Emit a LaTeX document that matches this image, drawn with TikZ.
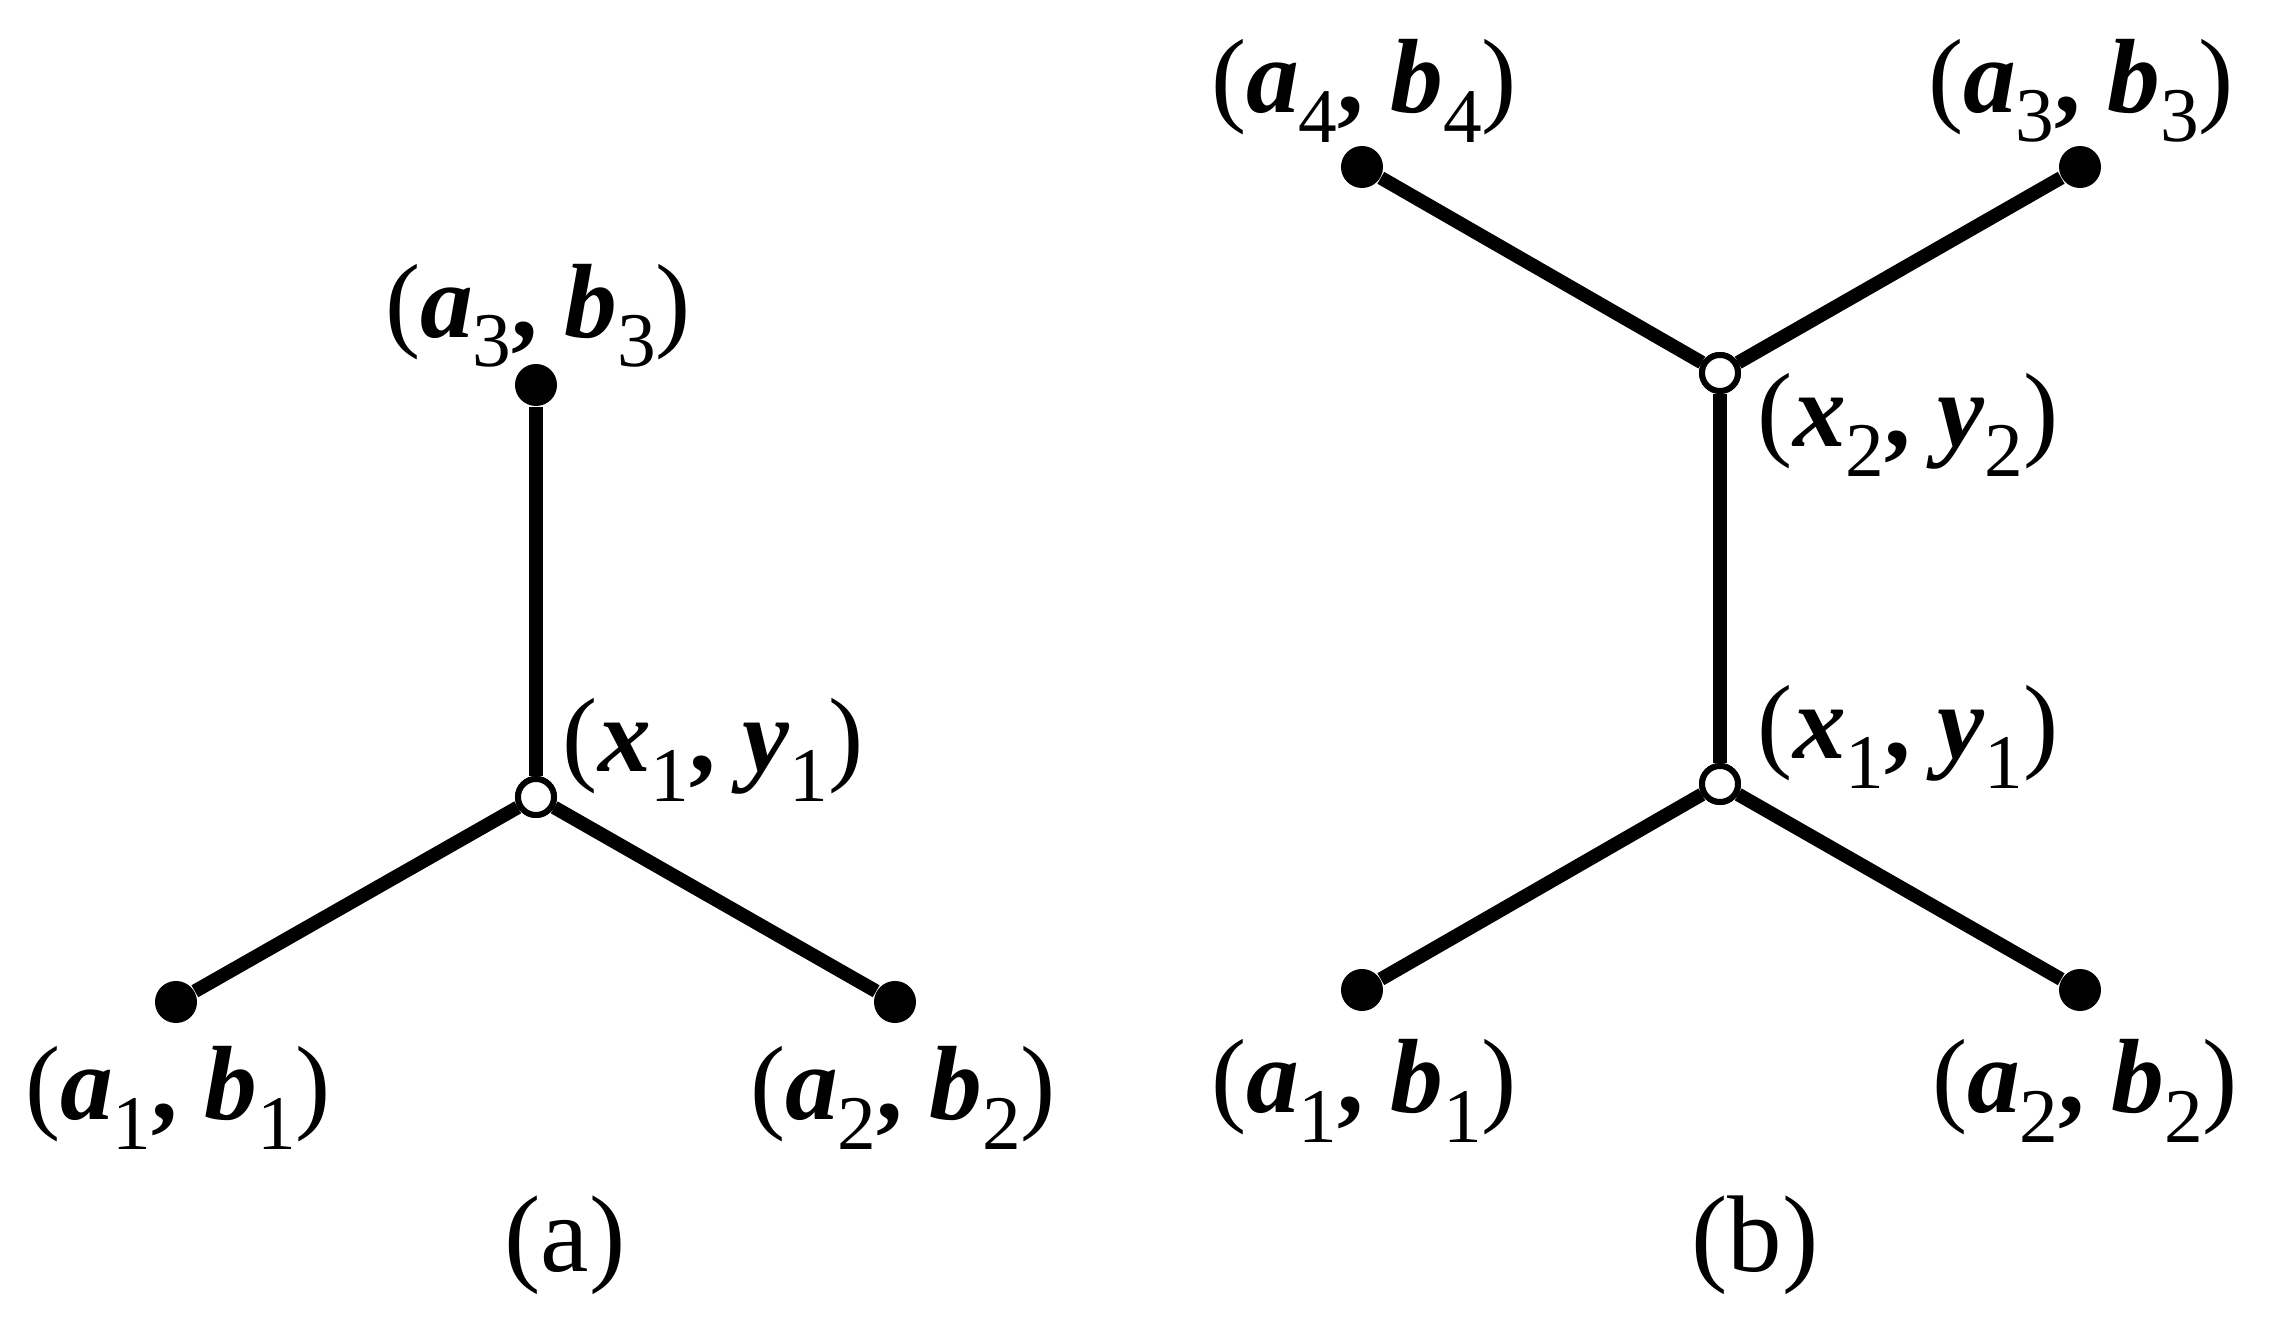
\documentclass[tikz,border=0pt]{standalone}
\usepackage{fontspec}
\setmainfont{Liberation Serif}
\newcommand\sbs[1]{\raisebox{-0.28em}{\fontsize{22}{22}\selectfont #1}}
\newcommand\cpair[4]{(\textbf{\textit{#1}}\sbs{#2}\textbf{,} \textbf{\textit{#3}}\sbs{#4})}
\tikzset{
  px/.style={x=0.01cm,y=-0.01cm},
  fdot/.style={circle,fill=black,inner sep=0pt,minimum size=0.42cm},
  odot/.style={circle,draw=black,fill=white,line width=1.7pt,inner sep=0pt,minimum size=0.36cm},
  conn/.style={line width=3.9pt},
  lab/.style={font=\fontsize{30}{34}\selectfont,inner sep=0pt},
  captext/.style={font=\fontsize{31}{34}\selectfont,inner sep=0pt}
}
\begin{document}
\begin{tikzpicture}[px]
\useasboundingbox (0,0) rectangle (2277,1331);
% panel (a)
\node[fdot] (A3) at (536,385) {};
\node[odot] (X1) at (536,797) {};
\node[fdot] (A1) at (176,1002) {};
\node[fdot] (A2) at (895,1002) {};
\draw[conn] (A3) -- (X1);
\draw[conn] (X1) -- (A1);
\draw[conn] (X1) -- (A2);
\node[odot] at (X1) {};
\node[lab] (LA3) at (538,316) {\cpair{a}{3}{b}{3}};
\node[lab] (LX1) at (713,750) {\cpair{x}{1}{y}{1}};
\node[lab] (LA1) at (178,1098) {\cpair{a}{1}{b}{1}};
\node[lab] (LA2) at (903,1098) {\cpair{a}{2}{b}{2}};
\node[captext] (CA) at (565,1245) {(a)};
% panel (b)
\node[fdot] (B4) at (1362,167) {};
\node[fdot] (B3) at (2080,167) {};
\node[odot] (Y2) at (1720,373) {};
\node[odot] (Y1) at (1720,784) {};
\node[fdot] (B1) at (1362,990) {};
\node[fdot] (B2) at (2080,990) {};
\draw[conn] (B4) -- (Y2);
\draw[conn] (B3) -- (Y2);
\draw[conn] (Y2) -- (Y1);
\draw[conn] (Y1) -- (B1);
\draw[conn] (Y1) -- (B2);
\node[odot] at (Y2) {};
\node[odot] at (Y1) {};
\node[lab] (LB4) at (1364,91) {\cpair{a}{4}{b}{4}};
\node[lab] (LB3) at (2081,91) {\cpair{a}{3}{b}{3}};
\node[lab] (LY2) at (1908,425) {\cpair{x}{2}{y}{2}};
\node[lab] (LY1) at (1908,737) {\cpair{x}{1}{y}{1}};
\node[lab] (LB1) at (1364,1091) {\cpair{a}{1}{b}{1}};
\node[lab] (LB2) at (2085,1091) {\cpair{a}{2}{b}{2}};
\node[captext] (CB) at (1755,1245) {(b)};
\end{tikzpicture}
\end{document}
